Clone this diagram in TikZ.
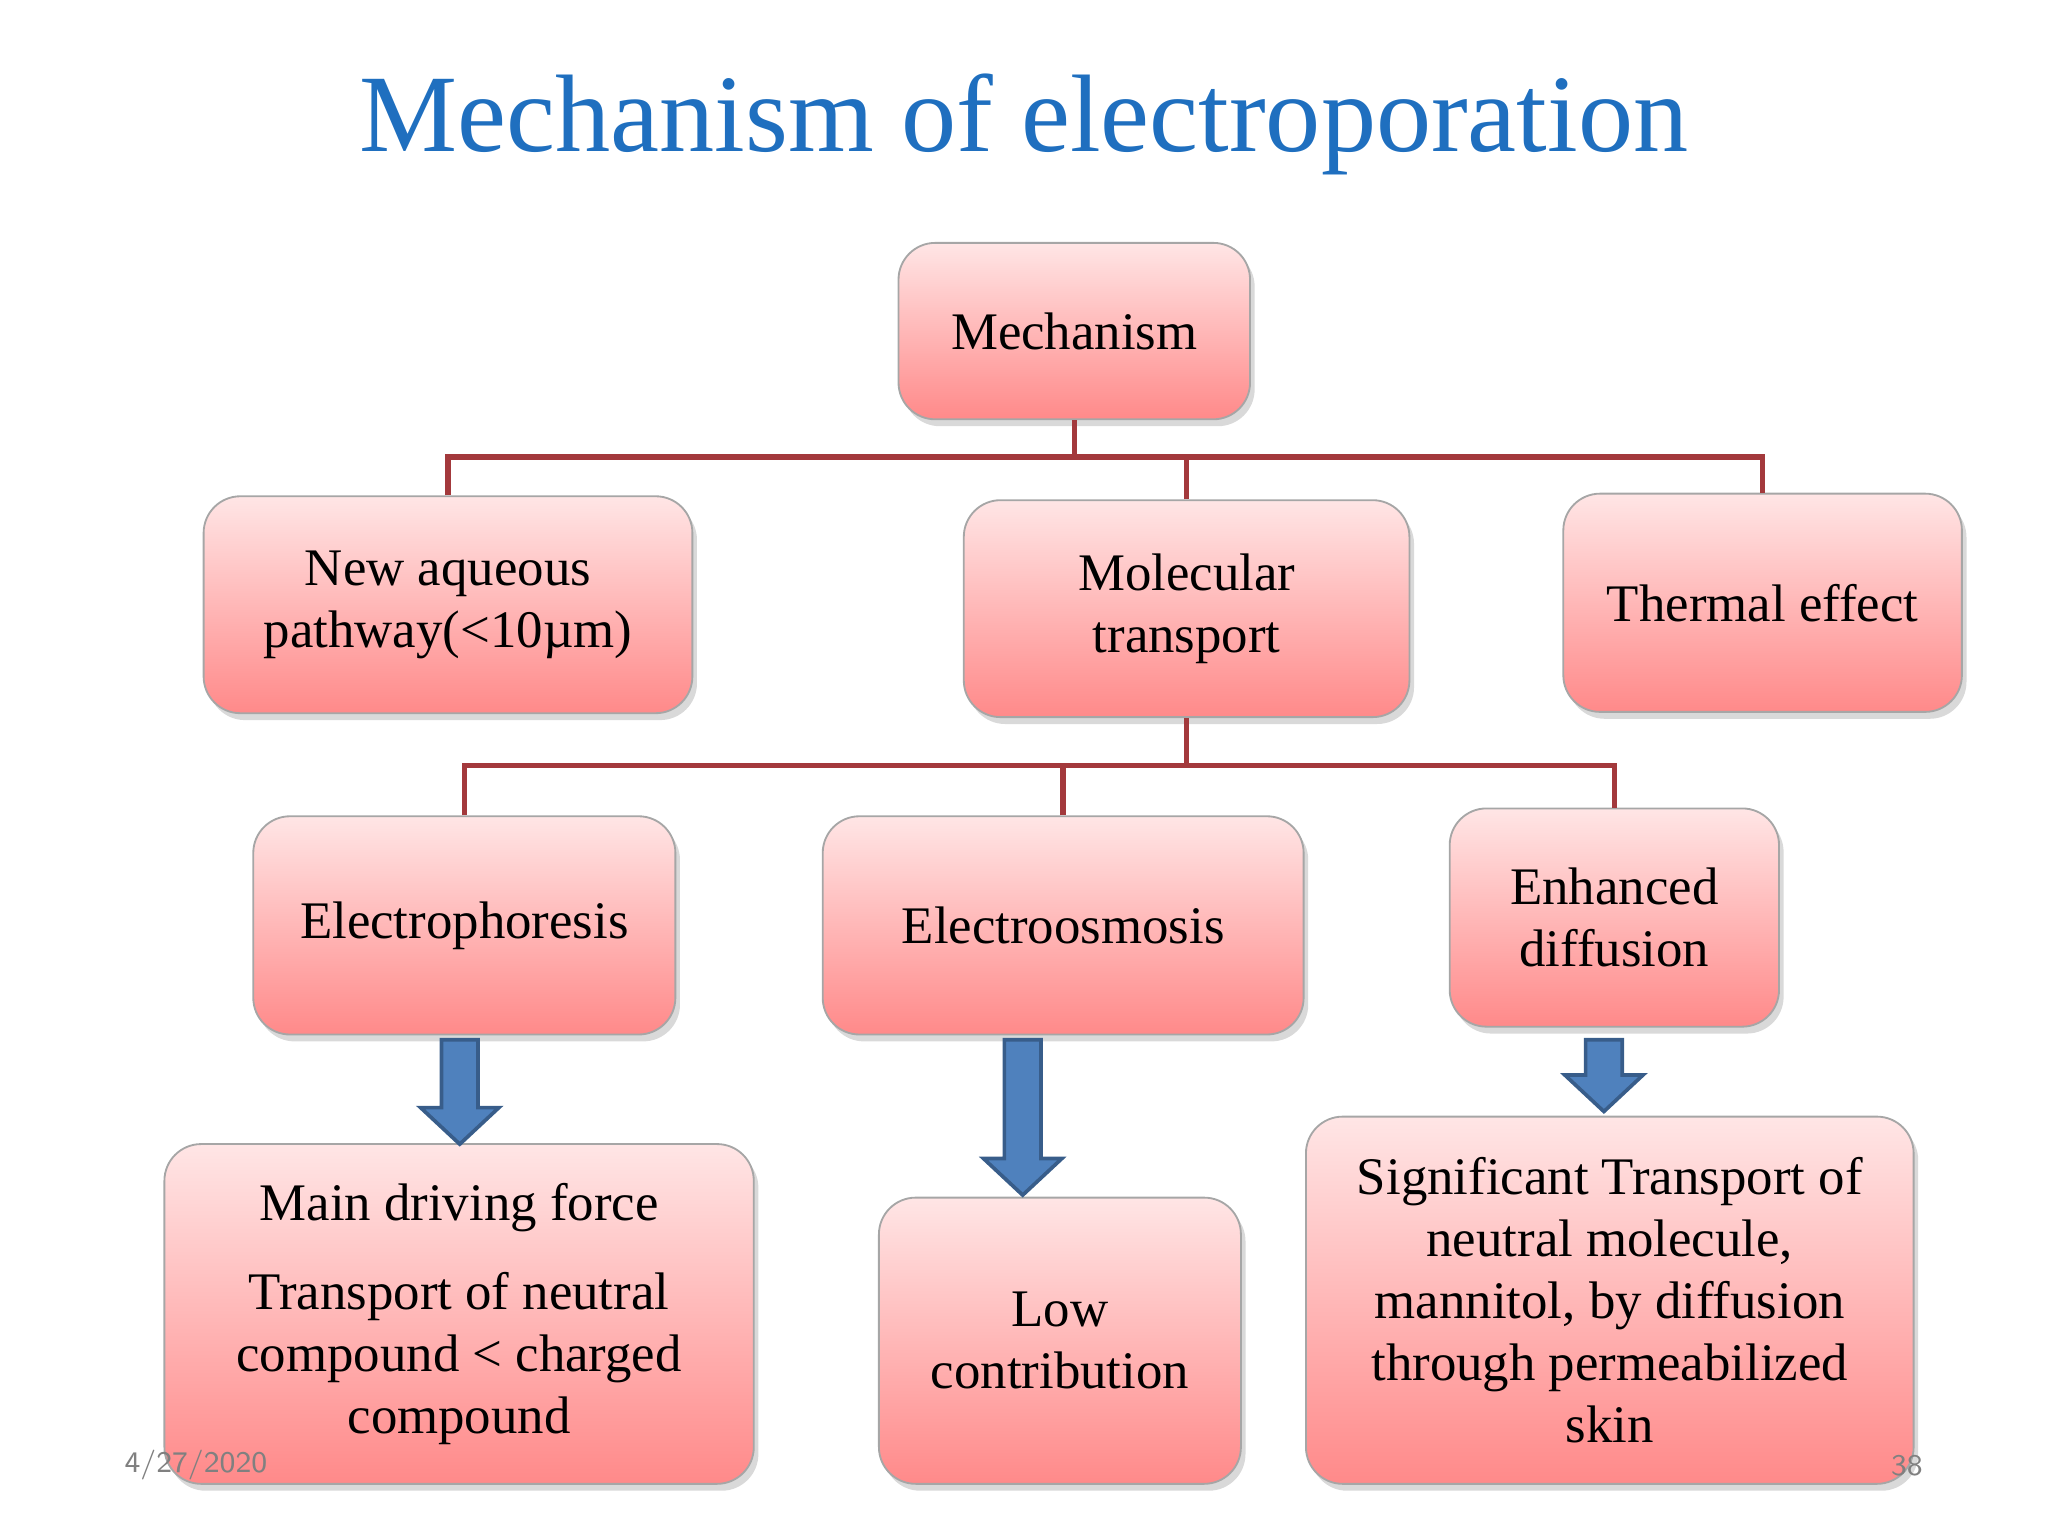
\documentclass[tikz,border=0pt]{standalone}
\usepackage{fontspec}
\setmainfont{Liberation Serif}
\usetikzlibrary{shadows}
\definecolor{titleblue}{HTML}{1F6FBF}
\definecolor{linered}{HTML}{A3393C}
\definecolor{arrowblue}{HTML}{4F81BD}
\definecolor{arrowedge}{HTML}{385D8A}
\tikzset{
 box/.style={draw=gray!70, rounded corners=8pt, top color=red!10, bottom color=red!35!pink!90, align=center, font=\fontsize{11.5pt}{13.5pt}\selectfont, drop shadow={shadow xshift=1pt, shadow yshift=-1.5pt, opacity=0.3}, inner sep=2pt},
 conn/.style={draw=linered, line width=1.2pt},
 barrow/.style={fill=arrowblue, draw=arrowedge, line width=0.8pt},
 foot/.style={font=\sffamily\fontsize{6.5pt}{7pt}\selectfont, text=gray}
}
\begin{document}
\begin{tikzpicture}[x={(0.01cm,0)}, y={(0,-0.01cm)}]
\useasboundingbox (0,0) rectangle (1568,1176);
\node[text=titleblue, font=\fontsize{24pt}{28pt}\selectfont] (title) at (784,95) {Mechanism of electroporation};
\node[box, minimum width=2.69cm, minimum height=1.35cm] (mech) at (822.5,253.5) {Mechanism};
\node[box, minimum width=3.74cm, minimum height=1.66cm] (newaq) at (343,463) {New aqueous\\pathway(<10µm)};
\node[box, minimum width=3.41cm, minimum height=1.66cm] (mol) at (908.5,466) {Molecular\\transport};
\node[box, minimum width=3.05cm, minimum height=1.67cm] (therm) at (1349.5,461.5) {Thermal effect};
\node[box, minimum width=3.23cm, minimum height=1.67cm] (ephor) at (355.5,708.5) {Electrophoresis};
\node[box, minimum width=3.68cm, minimum height=1.67cm] (eosm) at (814,708.5) {Electroosmosis};
\node[box, minimum width=2.52cm, minimum height=1.67cm] (enh) at (1236,702.5) {Enhanced\\diffusion};
\node[box, minimum width=4.51cm, minimum height=2.60cm] (main) at (351.5,1006) {Main driving force\\[6pt]Transport of neutral\\compound < charged\\compound};
\node[box, minimum width=2.77cm, minimum height=2.19cm] (low) at (811.5,1026.5) {Low\\contribution};
\node[box, minimum width=4.65cm, minimum height=2.81cm] (sig) at (1232.5,995.5) {Significant Transport of\\neutral molecule,\\mannitol, by diffusion\\through permeabilized\\skin};
% connectors level 1
\coordinate (b1) at (822.5,350);
\draw[conn] (mech.south) -- (b1);
\draw[conn] (newaq.north) |- (b1) -| (therm.north);
\draw[conn] (mol.north) -- (908.5,350);
% level 2
\coordinate (b2) at (908.5,586);
\draw[conn] (mol.south) -- (b2);
\draw[conn] (ephor.north) |- (b2) -| (enh.north);
\draw[conn] (eosm.north) -- (814,586);
% block arrows
\draw[barrow] (338,796) -- (366,796) -- (366,848) -- (382,848) -- (352,876) -- (322,848) -- (338,848) -- cycle;
\draw[barrow] (769,796) -- (797,796) -- (797,887) -- (813,887) -- (783,915) -- (753,887) -- (769,887) -- cycle;
\draw[barrow] (1214,796) -- (1242,796) -- (1242,823) -- (1258,823) -- (1228,851) -- (1198,823) -- (1214,823) -- cycle;
\node[foot] (date) at (150,1122) {4/27/2020};
\node[foot] (page) at (1460,1122) {38};
\end{tikzpicture}
\end{document}
